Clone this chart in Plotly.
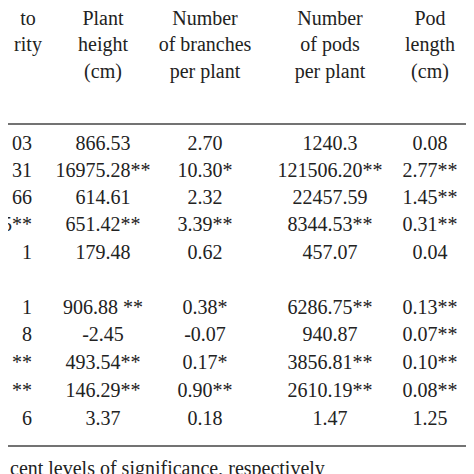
import plotly.graph_objects as go

# partly visible first column (cut by the crop), then four traits
col_left = ["03", "31", "66", "5**", "1", "", "1", "8", "**", "**", "6"]
plant_height = ["866.53", "16975.28**", "614.61", "651.42**", "179.48", "",
                "906.88 **", "-2.45", "493.54**", "146.29**", "3.37"]
branches = ["2.70", "10.30*", "2.32", "3.39**", "0.62", "",
            "0.38*", "-0.07", "0.17*", "0.90**", "0.18"]
pods = ["1240.3", "121506.20**", "22457.59", "8344.53**", "457.07", "",
        "6286.75**", "940.87", "3856.81**", "2610.19**", "1.47"]
pod_length = ["0.08", "2.77**", "1.45**", "0.31**", "0.04", "",
              "0.13**", "0.07**", "0.10**", "0.08**", "1.25"]

headers = [["to", "rity", ""],
           ["Plant", "height", "(cm)"],
           ["Number", "of branches", "per plant"],
           ["Number", "of pods", "per plant"],
           ["Pod", "length", "(cm)"]]
footnote = "cent levels of significance, respectively"

col_x = [95, 197, 322, 422]
row_y = [137, 164, 191, 218, 246, 273, 301, 328, 356, 384, 412]
head_y = [12, 38, 65]
font = dict(family="Liberation Serif", size=20, color="#222")

fig = go.Figure()
for cx, vals in zip(col_x, [plant_height, branches, pods, pod_length]):
    fig.add_trace(go.Scatter(x=[cx] * len(vals), y=row_y, text=vals, mode="text",
                             textfont=font, cliponaxis=False))
fig.add_trace(go.Scatter(x=[24] * len(col_left), y=row_y, text=col_left,
                         mode="text", textposition="middle left",
                         textfont=font, cliponaxis=False))
for cx, h in zip([20] + col_x, headers):
    fig.add_trace(go.Scatter(x=[cx] * 3, y=head_y, text=h, mode="text",
                             textfont=font, cliponaxis=False))
fig.add_annotation(x=0, y=460, text=footnote, showarrow=False, xanchor="left",
                   yanchor="middle", font=font)

for y in [116, 438]:
    fig.add_shape(type="line", x0=0, x1=474, y0=y, y1=y,
                  line=dict(color="#444", width=1.5))

fig.update_layout(width=474, height=474, margin=dict(l=0, r=0, t=0, b=0),
                  plot_bgcolor="white", paper_bgcolor="white", showlegend=False,
                  xaxis=dict(range=[0, 474], visible=False),
                  yaxis=dict(range=[474, 0], visible=False))
fig.write_html("out.html")
